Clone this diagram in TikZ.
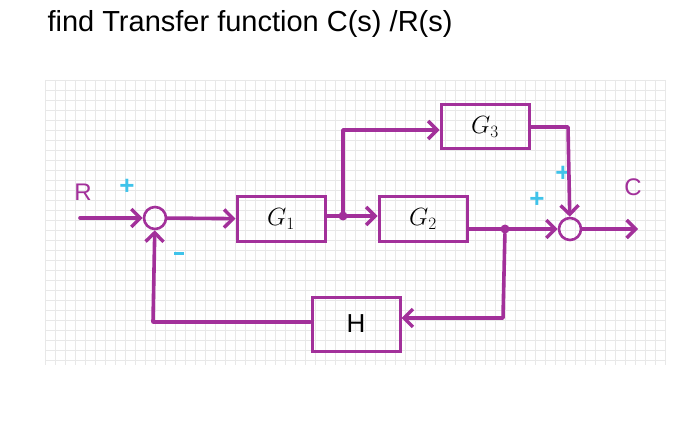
\documentclass[tikz,border=0pt]{standalone}
\usepackage{fontspec}
\setmainfont{Liberation Sans}
\usetikzlibrary{arrows.meta}
\definecolor{mag}{HTML}{A2309A}
\definecolor{cy}{HTML}{3FC3EA}
\begin{document}
\begin{tikzpicture}[x=1pt,y=-1pt,
  wire/.style={draw=mag,line width=3.6pt,line cap=round,line join=round},
  arr/.style={wire,-{Straight Barb[length=9pt,width=18pt,line width=3.4pt]}},
  blk/.style={draw=mag,line width=3pt,minimum width=88pt,minimum height=44pt,font=\fontsize{26}{26}\selectfont},
  sum/.style={circle,draw=mag,line width=2.6pt,minimum size=22pt,inner sep=0pt},
  sgn/.style={text=cy,font=\bfseries\fontsize{26}{26}\selectfont},
  dot/.style={circle,fill=mag,inner sep=0pt,minimum size=9pt}]
\useasboundingbox (0,0) rectangle (700,446);
\fill[white] (0,0) rectangle (700,446);
\foreach \x in {45,55,...,665} \draw[black!9,line width=0.5pt] (\x,80) -- (\x,365);
\foreach \y in {80,90,...,360} \draw[black!9,line width=0.5pt] (45,\y) -- (665,\y);
\node[anchor=west,font=\fontsize{29}{29}\selectfont] (title) at (44,24) {find Transfer function C(s) /R(s)};
\node[sum] (s1) at (155,218) {};
\node[sum] (s2) at (570,229) {};
\node[blk] (g1) at (281,219) {$G_1$};
\node[blk] (g2) at (423,219) {$G_2$};
\node[blk] (g3) at (485,127) {$G_3$};
\node[blk,minimum height=54pt] (h) at (356,324) {H};
\coordinate (rin) at (80,218);
\coordinate (cout) at (638,229);
\node[font=\fontsize{24}{24}\selectfont,text=mag] (rl) at (83,192) {R};
\node[font=\fontsize{24}{24}\selectfont,text=mag] (cl) at (633,187) {C};
\node[sgn] (p1) at (127,187) {+};
\node[sgn] (m1) at (179,253) {\rule{10pt}{3pt}};
\node[sgn] (p2) at (563,174) {+};
\node[sgn] (p3) at (537,200) {+};
\node[dot] (b1) at (343,216) {};
\node[dot] (b2) at (505,229) {};
\draw[arr] (rin) -- (s1);
\draw[arr] (s1) -- (g1);
\draw[wire] (g1.east|-b1) -- (b1);
\draw[arr] (b1) -- (g2.west|-b1);
\draw[arr] (b1) -- (343,130) -- (g3.west|-0,130);
\draw[arr] (g3.east) -- (568,127) -- (s2);
\draw[wire] (g2.east|-b2) -- (b2);
\draw[arr] (b2) -- (s2);
\draw[arr] (b2) -- (503,318) -- (h.east|-0,318);
\draw[arr] (h.west|-0,322) -- (153,322) -- (s1);
\draw[arr] (s2) -- (cout);
\end{tikzpicture}
\end{document}
